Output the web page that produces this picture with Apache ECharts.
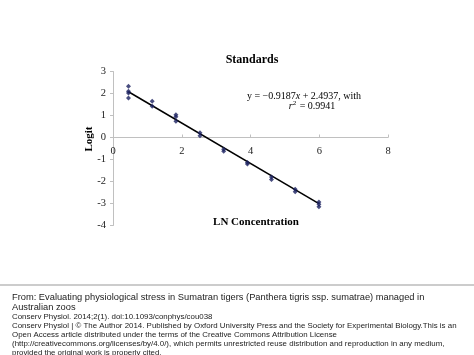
<!DOCTYPE html>
<html><head><meta charset="utf-8">
<script src="https://cdn.jsdelivr.net/npm/echarts@6/dist/echarts.min.js"></script>
<style>html,body{margin:0;padding:0;background:#fff}#c{width:474px;height:355px}</style>
</head><body><div id="c"></div>
<script>
var titleText = 'Standards';
var xAxisName = 'LN Concentration';
var yAxisName = 'Logit';
var lnConc = [0.45,0.45,0.45,0.45, 1.14,1.14, 1.83,1.83,1.83, 2.53,2.53, 3.22,3.22, 3.91,3.91, 4.61,4.61, 5.30,5.30, 5.99,5.99,5.99];
var logit  = [2.33,2.10,2.02,1.80, 1.65,1.42, 1.03,0.94,0.74, 0.22,0.08, -0.53,-0.62, -1.14,-1.21, -1.79,-1.91, -2.35,-2.47, -2.93,-3.03,-3.15];
var fitX = [0.45, 5.99];
var fitY = [2.08, -3.01];
var eqLine1 = 'y = \u22120.9187{i|x} + 2.4937, with';
var eqLine2 = '{i|r}{sup|2} = 0.9941';
var footerLines = [
  'From: Evaluating physiological stress in Sumatran tigers (Panthera tigris ssp. sumatrae) managed in',
  'Australian zoos',
  'Conserv Physiol. 2014;2(1). doi:10.1093/conphys/cou038',
  'Conserv Physiol | \u00a9 The Author 2014. Published by Oxford University Press and the Society for Experimental Biology.This is an',
  'Open Access article distributed under the terms of the Creative Commons Attribution License',
  '(http://creativecommons.org/licenses/by/4.0/), which permits unrestricted reuse distribution and reproduction in any medium,',
  'provided the original work is properly cited.'
];

var serif = '"Liberation Serif", "DejaVu Serif", serif';
var sans = '"Liberation Sans", Arial, sans-serif';
var chart = echarts.init(document.getElementById('c'));

var pts = lnConc.map(function(x,i){return [x, logit[i]];});
var fit = fitX.map(function(x,i){return [x, fitY[i]];});

var gridTop = 71.5, gridBottom = 129.5, H = 355;
var yMin = -4, yMax = 3;
var plotH = H - gridTop - gridBottom;
var zeroOffset = -(plotH * (0 - yMin) / (yMax - yMin));

var footerY = [297, 307, 317, 326, 335, 344, 353];
var footerSize = [9.3, 9.3, 7.9, 7.9, 7.9, 7.9, 7.9];
var graphics = [
  {type:'line', shape:{x1:0,y1:285,x2:474,y2:285}, style:{stroke:'#999',lineWidth:1}},
  {type:'text', x:89, y:139, rotation:Math.PI/2, style:{text:yAxisName, font:'bold 11px '+serif, fill:'#000', align:'center', verticalAlign:'middle'}},
  {type:'text', x:256, y:222, style:{text:xAxisName, font:'bold 11px '+serif, fill:'#000', align:'center', verticalAlign:'middle'}},
  {type:'text', x:304, y:96, style:{text:eqLine1, font:'10px '+serif, fill:'#000', align:'center', verticalAlign:'middle',
     rich:{i:{fontStyle:'italic', fontFamily:serif, fontSize:10}}}},
  {type:'text', x:312, y:106, style:{text:eqLine2, font:'10px '+serif, fill:'#000', align:'center', verticalAlign:'middle',
     rich:{i:{fontStyle:'italic', fontFamily:serif, fontSize:10}, sup:{fontFamily:serif, fontSize:7, verticalAlign:'top', padding:[0,1,6,0]}}}}
];
footerLines.forEach(function(t,i){
  graphics.push({type:'text', x:12, y:footerY[i], style:{text:t, font:footerSize[i]+'px '+sans, fill:'#222', verticalAlign:'middle'}});
});

chart.setOption({
  animation:false,
  title:{text:titleText, left:247, top:49, textAlign:'center', textStyle:{fontFamily:serif, fontWeight:'bold', fontSize:12, color:'#000'}},
  grid:{left:113, right:86, top:gridTop, bottom:gridBottom},
  xAxis:{type:'value', min:0, max:8, interval:2, offset:zeroOffset,
    axisLine:{onZero:false, lineStyle:{color:'#c0c0c0'}},
    axisTick:{show:true, inside:true, length:3, lineStyle:{color:'#c0c0c0'}},
    axisLabel:{fontFamily:serif, fontSize:10.5, color:'#222', margin:8},
    splitLine:{show:false}},
  yAxis:{type:'value', min:yMin, max:yMax, interval:1,
    axisLine:{show:true, lineStyle:{color:'#c0c0c0'}},
    axisTick:{show:true, length:3, lineStyle:{color:'#c0c0c0'}},
    axisLabel:{fontFamily:serif, fontSize:10.5, color:'#222', margin:7},
    splitLine:{show:false}},
  graphic: graphics,
  series:[
    {type:'line', data:fit, symbol:'none', lineStyle:{color:'#000', width:1.5}, z:2},
    {type:'scatter', data:pts, symbol:'diamond', symbolSize:5, itemStyle:{color:'#1c2260'}, z:3}
  ]
});
</script></body></html>
